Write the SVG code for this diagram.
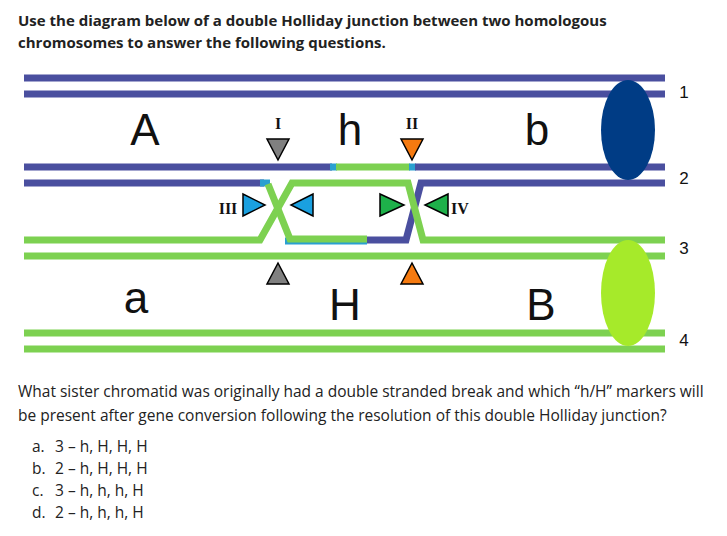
<svg xmlns="http://www.w3.org/2000/svg" width="727" height="536" viewBox="0 0 727 536">
<style>
.t{font-family:"Open Sans","Liberation Sans",sans-serif;font-size:15.5px;fill:#222}
.b{font-weight:bold;font-size:15px}
.big{font-family:"Liberation Sans",sans-serif;font-size:44px;fill:#111}
.num{font-family:"Liberation Sans",sans-serif;font-size:17px;fill:#111}
.rom{font-family:"Liberation Serif",serif;font-weight:bold;font-size:16px;fill:#111}
.bl{stroke:#4a4f9f;stroke-width:7;fill:none}
.gr{stroke:#7dd151;stroke-width:7;fill:none}
.cy{stroke:#2aa0d0;stroke-width:7;fill:none}
.tri{stroke:#000;stroke-width:1.5}
</style>
<rect width="727" height="536" fill="#fff"/>
<text class="t b" x="18" y="26">Use the diagram below of a double Holliday junction between two homologous</text>
<text class="t b" x="18" y="48">chromosomes to answer the following questions.</text>
<g id="connectors">
<line class="bl" x1="24" y1="78" x2="665" y2="78"/>
<line class="bl" x1="24" y1="94" x2="665" y2="94"/>
<line class="bl" x1="24" y1="167" x2="332" y2="167"/>
<line class="cy" x1="330" y1="167" x2="337" y2="167"/>
<line class="gr" x1="336" y1="167" x2="410" y2="167"/>
<line class="cy" x1="409" y1="167" x2="416" y2="167"/>
<line class="bl" x1="415" y1="167" x2="665" y2="167"/>
<line class="bl" x1="24" y1="183" x2="264" y2="183"/>
<line class="cy" x1="260" y1="183" x2="270" y2="183"/>
<polyline class="bl" points="365,240 406,240 421,183 665,183"/>
<line class="cy" x1="285" y1="241" x2="367" y2="241"/>
<polyline class="gr" points="268,184 290,239 367,239"/>
<polyline class="gr" points="24,240 260,240 292,183 408,183 423,240 665,240"/>
<line class="gr" x1="24" y1="256" x2="665" y2="256"/>
<line class="gr" x1="24" y1="333" x2="665" y2="333"/>
<line class="gr" x1="24" y1="349" x2="665" y2="349"/>
</g>
<g id="centromeres">
<ellipse cx="628" cy="130" rx="27" ry="50" fill="#003c85"/>
<ellipse cx="628" cy="293" rx="27" ry="53" fill="#a6ea2a"/>
</g>
<g id="labels">
<text class="big" x="145" y="145" text-anchor="middle">A</text>
<text class="big" x="350" y="145" text-anchor="middle">h</text>
<text class="big" x="537" y="145" text-anchor="middle">b</text>
<text class="big" x="136" y="313" text-anchor="middle">a</text>
<text class="big" x="345" y="320" text-anchor="middle">H</text>
<text class="big" x="541" y="320" text-anchor="middle">B</text>
<text class="num" x="684" y="98" text-anchor="middle">1</text>
<text class="num" x="684" y="184" text-anchor="middle">2</text>
<text class="num" x="684" y="254" text-anchor="middle">3</text>
<text class="num" x="684" y="346" text-anchor="middle">4</text>
</g>
<g id="markers">
<text class="rom" x="278" y="129" text-anchor="middle">I</text>
<text class="rom" x="412" y="129" text-anchor="middle">II</text>
<text class="rom" x="228" y="214" text-anchor="middle">III</text>
<text class="rom" x="460" y="214" text-anchor="middle">IV</text>
<polygon class="tri" fill="#808080" points="267,139 289,139 278,160"/>
<polygon class="tri" fill="#f57a10" points="401,139 423,139 412,160"/>
<polygon class="tri" fill="#1aa0e0" points="243,194 243,216 265,205"/>
<polygon class="tri" fill="#1aa0e0" points="313,194 313,216 291,205"/>
<polygon class="tri" fill="#1eb14a" points="380,194 380,216 404,205"/>
<polygon class="tri" fill="#1eb14a" points="448,194 448,216 425,205"/>
<polygon class="tri" fill="#808080" points="267,284 289,284 278,263"/>
<polygon class="tri" fill="#f57a10" points="401,284 423,284 412,263"/>
</g>
<text class="t" x="18" y="397">What sister chromatid was originally had a double stranded break and which “h/H” markers will</text>
<text class="t" x="18" y="421">be present after gene conversion following the resolution of this double Holliday junction?</text>
<text class="t" x="32" y="452">a.</text><text class="t" x="55" y="452">3 – h, H, H, H</text>
<text class="t" x="32" y="474">b.</text><text class="t" x="55" y="474">2 – h, H, H, H</text>
<text class="t" x="32" y="496">c.</text><text class="t" x="55" y="496">3 – h, h, h, H</text>
<text class="t" x="32" y="518">d.</text><text class="t" x="55" y="518">2 – h, h, h, H</text>
</svg>
